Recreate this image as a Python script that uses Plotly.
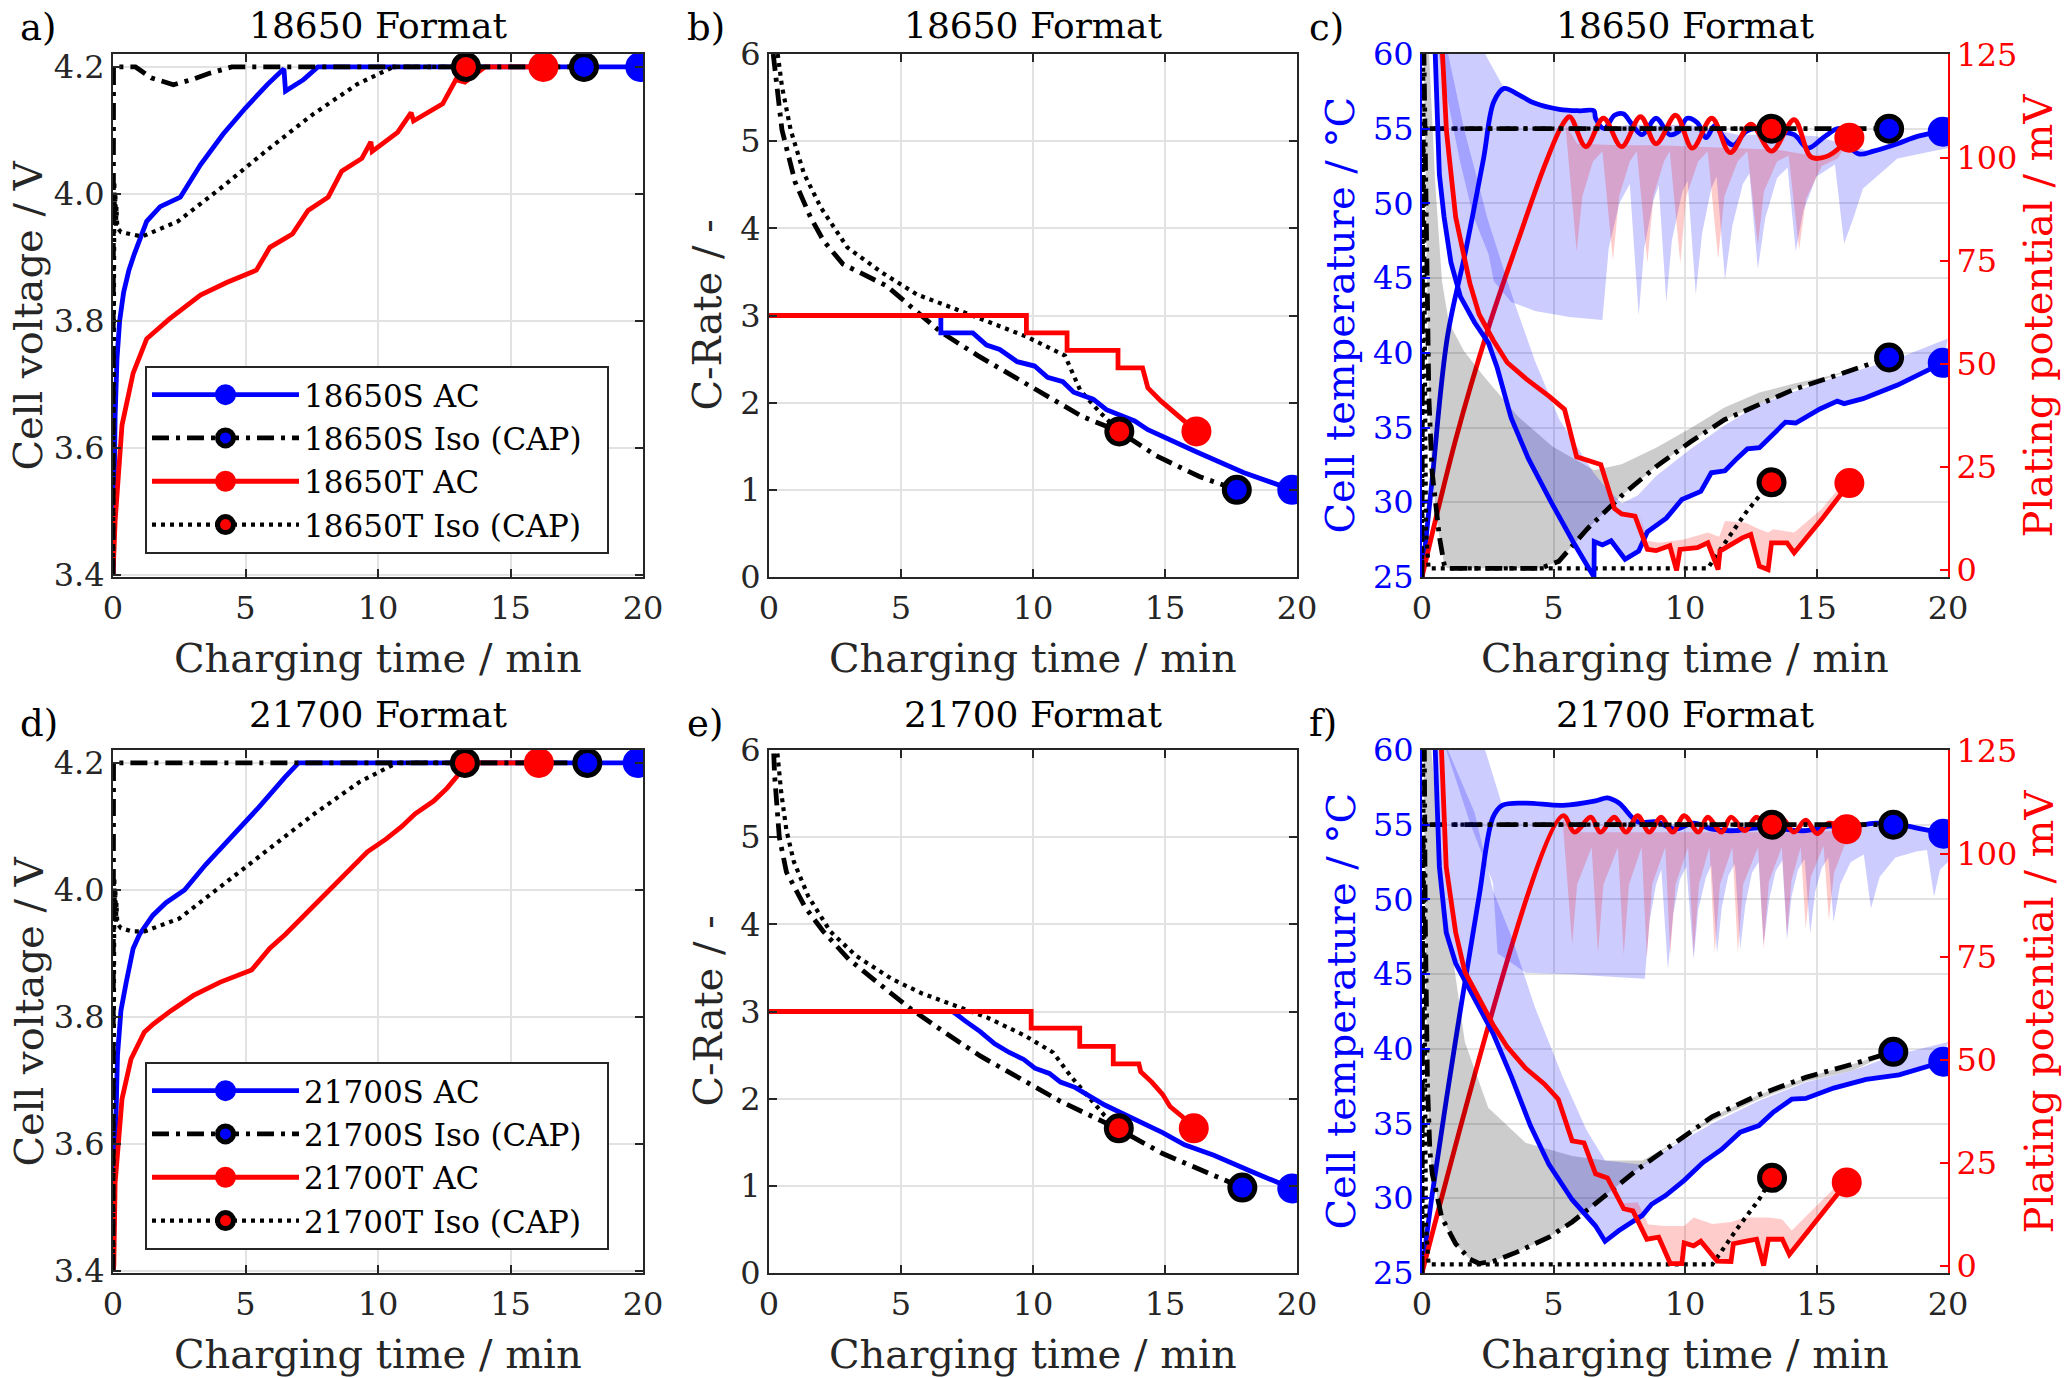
import plotly.graph_objects as go

FONT = "DejaVu Serif"
INK = "#262626"
BLUE = "#0000ff"
RED = "#ff0000"
BLACK = "#000000"
GRID = "#e2e2e2"
BAND_BLUE = "rgba(0,0,255,0.2)"
BAND_RED = "rgba(255,0,0,0.2)"
BAND_GRAY = "rgba(0,0,0,0.2)"

DASHDOT = "17px,7px,4px,7px"
DOT = "4px,5px"
LW = 4.8

# ---------------- panel a: 18650 cell voltage ----------------
a_S_AC_t = [0, 0.03, 0.08, 0.15, 0.25, 0.4, 0.6, 0.8, 1.27, 1.78, 2.54, 3.3, 4.15, 4.99, 5.84, 6.45, 6.51, 7.19, 7.73, 19.9]
a_S_AC_v = [3.4, 3.55, 3.65, 3.74, 3.8, 3.845, 3.88, 3.905, 3.957, 3.98, 3.995, 4.046, 4.094, 4.135, 4.173, 4.197, 4.162, 4.18, 4.2, 4.2]
a_S_Iso_t = [0, 0.02, 0.85, 1.44, 2.28, 2.96, 3.64, 4.48, 17.77]
a_S_Iso_v = [3.4, 4.2, 4.2, 4.183, 4.172, 4.18, 4.19, 4.2, 4.2]
a_T_AC_t = [0, 0.08, 0.34, 0.76, 1.27, 2.12, 3.3, 4.31, 5.41, 5.92, 6.77, 7.36, 8.12, 8.63, 9.39, 9.73, 9.78, 10.74, 11.25, 11.34, 12.44, 12.94, 13.28, 14.04, 16.24]
a_T_AC_v = [3.4, 3.485, 3.636, 3.718, 3.772, 3.803, 3.841, 3.861, 3.88, 3.916, 3.937, 3.974, 3.995, 4.036, 4.056, 4.082, 4.067, 4.097, 4.128, 4.115, 4.142, 4.18, 4.176, 4.2, 4.2]
a_T_Iso_t = [0, 0.03, 0.05, 0.07, 0.09, 0.11, 0.13, 0.16, 0.2, 0.3, 0.6, 1.1, 2.45, 4.15, 5.84, 7.53, 9.22, 10.58, 13.32]
a_T_Iso_v = [3.4, 3.75, 4.02, 3.96, 4.0, 3.95, 3.98, 3.95, 3.945, 3.94, 3.937, 3.933, 3.957, 4.012, 4.07, 4.125, 4.173, 4.2, 4.2]

# ---------------- panel b: 18650 C-rate ----------------
b_S_AC_t = [0, 6.51, 6.51, 7.72, 8.24, 8.74, 9.4, 10.06, 10.55, 11.13, 11.54, 12.28, 12.78, 13.85, 14.35, 15.5, 16.16, 17.97, 19.82]
b_S_AC_c = [3, 3, 2.8, 2.8, 2.66, 2.61, 2.47, 2.42, 2.29, 2.24, 2.12, 2.04, 1.92, 1.79, 1.69, 1.54, 1.44, 1.2, 1.0]
b_S_Iso_t = [0.16, 0.25, 0.49, 0.99, 1.57, 2.06, 2.8, 4.45, 5.77, 6.51, 7.91, 9.89, 11.87, 13.27, 14.67, 16.32, 17.72]
b_S_Iso_c = [6.0, 5.73, 5.13, 4.53, 4.13, 3.86, 3.59, 3.34, 2.99, 2.81, 2.54, 2.19, 1.84, 1.67, 1.39, 1.15, 1.0]
b_T_AC_t = [0, 9.75, 9.75, 11.29, 11.29, 13.22, 13.22, 14.15, 14.35, 14.84, 16.19]
b_T_AC_c = [3, 3, 2.8, 2.8, 2.6, 2.6, 2.4, 2.4, 2.17, 2.02, 1.67]
b_T_Iso_t = [0.33, 0.49, 0.82, 1.32, 1.98, 2.97, 4.29, 5.61, 6.93, 8.24, 9.73, 11.21, 11.79, 12.53, 13.27]
b_T_Iso_c = [6.0, 5.63, 5.13, 4.63, 4.23, 3.78, 3.49, 3.24, 3.09, 2.94, 2.76, 2.54, 2.14, 1.89, 1.67]

# ---------------- panel c: 18650 temperature (degC) ----------------
c_S_AC_T_t = [0, 0.39, 0.96, 1.68, 2.34, 2.73, 3.12, 3.65, 4.3, 5.22, 6.0, 6.54, 6.6, 6.93, 7.32, 7.65, 7.98, 8.37, 8.9, 9.42, 9.75, 10.08, 10.47, 10.8, 11.13, 11.52, 11.85, 12.31, 12.7, 13.23, 13.62, 14.15, 14.67, 15.33, 15.85, 16.3, 16.64, 17.17, 18.08, 18.87, 19.8]
c_S_AC_T = [25, 31.6, 41.0, 47.0, 53.0, 56.8, 57.7, 57.3, 56.7, 56.3, 56.2, 56.2, 55.7, 55.0, 55.9, 56.0, 55.3, 54.6, 55.7, 54.6, 54.8, 55.7, 55.4, 54.4, 55.2, 54.3, 53.9, 54.8, 55.0, 54.2, 54.7, 54.6, 53.7, 54.5, 55.0, 53.7, 53.3, 53.5, 54.0, 54.5, 54.8]
c_T_AC_T_t = [0, 1.28, 2.53, 3.65, 4.7, 5.35, 5.62, 6.23, 6.9, 7.59, 8.31, 8.9, 9.65, 10.28, 11.02, 11.72, 12.5, 13.29, 14.15, 14.8, 15.46, 16.25]
c_T_AC_T = [25, 34.2, 41.7, 47.5, 52.7, 55.3, 55.8, 53.8, 55.7, 53.8, 55.8, 54.0, 55.9, 53.7, 55.7, 53.4, 55.3, 53.5, 55.6, 53.1, 53.2, 54.4]
c_S_Iso_T_t = [0, 0.03, 17.76]
c_S_Iso_T = [25, 55, 55]
c_T_Iso_T_t = [0, 0.03, 13.29]
c_T_Iso_T = [25, 55, 55]
# temperature range bands (degC)
c_Sband_up_t = [0.55, 1.5, 2.4, 3.12, 3.65, 4.3, 5.22, 6.0, 6.54, 6.93, 8.0, 9.0, 10.0, 11.0, 12.0, 13.0, 14.0, 15.0, 16.0, 17.0, 18.0, 19.0, 20.0]
c_Sband_up = [62, 62, 60, 57.7, 57.3, 56.7, 56.3, 56.2, 56.2, 55.0, 55.3, 55.2, 55.3, 55.0, 54.6, 54.6, 54.6, 54.5, 54.0, 53.5, 54.0, 54.4, 54.8]
c_Sband_lo_t = [0.63, 1.42, 1.94, 2.53, 2.73, 3.39, 4.3, 5.6, 6.86, 7.1, 7.5, 7.9, 8.24, 8.45, 8.8, 9.0, 9.29, 9.5, 9.9, 10.1, 10.41, 10.65, 11.0, 11.2, 11.52, 11.8, 12.2, 12.45, 12.77, 13.05, 13.5, 13.9, 14.21, 14.5, 15.0, 15.7, 16.05, 16.4, 16.77, 18.08, 19.4, 20.0]
c_Sband_lo = [60, 53, 49.2, 46.6, 44.8, 43.4, 42.8, 42.4, 42.2, 47.0, 50.0, 51.3, 42.5, 47.0, 50.2, 51.2, 43.4, 47.5, 50.8, 51.5, 43.9, 48.0, 51.0, 51.8, 44.9, 48.5, 51.3, 52.0, 45.6, 49.0, 51.7, 52.4, 46.8, 49.5, 51.8, 52.6, 47.3, 49.0, 51.0, 53.0, 53.5, 53.7]
c_Tband_up_t = [5.45, 5.9, 7.5, 9.0, 10.5, 12.0, 13.5, 14.8, 15.5, 16.25]
c_Tband_up = [55.3, 54.0, 53.9, 53.9, 53.8, 53.7, 53.6, 53.2, 53.3, 54.3]
c_Tband_lo_t = [5.45, 5.88, 6.1, 6.5, 6.86, 7.26, 7.5, 7.9, 8.17, 8.57, 8.8, 9.2, 9.42, 9.82, 10.05, 10.5, 10.86, 11.26, 11.5, 12.0, 12.37, 12.77, 13.0, 13.5, 13.94, 14.34, 14.6, 15.2, 15.8, 16.25]
c_Tband_lo = [55.3, 46.8, 50.5, 52.8, 53.5, 46.2, 50.5, 52.8, 53.5, 46.0, 50.5, 52.8, 53.5, 46.0, 50.5, 52.8, 53.5, 46.3, 50.5, 52.8, 53.5, 47.2, 50.8, 52.8, 53.2, 46.9, 50.3, 52.5, 53.0, 54.2]

# ---------------- panel c: 18650 plating potential (mV) ----------------
c_S_AC_P_t = [0.45, 0.66, 0.84, 1.1, 1.46, 2.0, 2.53, 2.86, 3.39, 4.04, 4.96, 5.75, 6.54, 6.55, 6.86, 7.19, 7.72, 8.24, 8.57, 9.29, 9.88, 10.6, 11.0, 11.52, 11.98, 12.37, 12.83, 13.36, 13.82, 14.21, 15.13, 15.79, 16.05, 16.77, 18.08, 19.8]
c_S_AC_P = [135, 96, 85.6, 74.6, 66.3, 60, 55, 49, 36.8, 27, 15.8, 6.7, -1.8, 6.8, 6, 7, 2.5, 4.5, 9.2, 12.5, 17, 19, 23.5, 24, 27, 29.3, 29.6, 32.9, 35.8, 35.6, 39, 40.9, 40.3, 41.5, 44.8, 50.2]
c_T_AC_P_t = [0.7, 0.93, 1.28, 1.82, 2.17, 2.71, 3.24, 3.96, 4.85, 5.42, 5.88, 6.8, 7.32, 7.59, 8.1, 8.57, 8.9, 9.42, 9.68, 9.81, 10.47, 10.87, 11.26, 11.33, 12.18, 12.5, 12.83, 13.16, 13.29, 13.88, 14.15, 15.2, 16.25]
c_T_AC_P = [135, 106.5, 85.6, 69.5, 62, 55.7, 50.3, 46.3, 42, 38.9, 27.4, 25.5, 14.8, 13.5, 13, 4.9, 4.6, 5.8, -0.2, 4.9, 5.3, 6.5, 0, 4.5, 7.7, 8.5, 0.8, 0, 6.5, 6.5, 4.1, 12.2, 21.0]
c_S_Iso_P_t = [0.05, 0.1, 0.18, 0.26, 0.38, 0.55, 0.66, 0.85, 0.95, 4.5, 5.2, 6.3, 7.6, 8.9, 10.2, 11.5, 12.8, 14.15, 15.5, 16.8, 17.76]
c_S_Iso_P = [135, 110, 75, 42, 24, 13, 8, 1, 0.3, 0.3, 2, 10, 18, 25, 31, 36.4, 40, 43.8, 46.6, 49.5, 51.5]
c_T_Iso_P_t = [0.03, 0.08, 0.15, 0.25, 10.87, 11.13, 11.52, 12.31, 12.83, 13.29]
c_T_Iso_P = [135, 60, 10, 0.3, 0.3, 2.9, 6.5, 13.8, 17.9, 21.2]
# plating range bands (mV)
c_grayband_up_t = [0.2, 0.5, 0.76, 1.02, 1.6, 2.34, 3.65, 4.96, 6.54, 7.59, 8.9, 10.21, 11.52, 12.83, 14.15, 15.46, 16.77, 17.76]
c_grayband_up = [135, 94, 70, 60, 53, 47, 37.2, 29.9, 24.1, 25.6, 29.6, 34.3, 39.4, 43, 45.2, 47, 49.5, 51.5]
c_blueband_up_t = [0.5, 1.0, 1.6, 2.5, 3.5, 4.3, 5.22, 6.0, 6.54, 7.0, 7.6, 8.2, 8.9, 10.2, 11.5, 12.8, 14.2, 15.5, 16.8, 17.8, 20.0]
c_blueband_up = [132, 125, 107, 85, 65.1, 50.6, 36.5, 28.9, 23.4, 19.8, 16.1, 18.0, 22.7, 29.2, 35.0, 40.1, 43.4, 46.3, 48.8, 50.6, 56.1]
c_redband_up_t = [8.3, 8.57, 9.0, 9.68, 9.95, 10.87, 11.3, 11.52, 12.31, 12.83, 13.16, 13.36, 14.15, 15.2, 15.98, 16.25]
c_redband_up = [13, 7, 6.5, 7, 7.3, 9, 8, 11.8, 11.4, 9.8, 9, 9.8, 9, 14.7, 20.8, 22]

# ---------------- panel d: 21700 cell voltage ----------------
d_S_AC_t = [0, 0.03, 0.08, 0.17, 0.3, 0.5, 0.76, 1.0, 1.5, 2.0, 2.7, 3.5, 4.5, 5.5, 6.5, 7.0, 19.8]
d_S_AC_v = [3.4, 3.5, 3.59, 3.74, 3.81, 3.855, 3.908, 3.93, 3.96, 3.98, 4.0, 4.04, 4.085, 4.13, 4.178, 4.2, 4.2]
d_S_Iso_t = [0, 0.02, 17.9]
d_S_Iso_v = [3.4, 4.2, 4.2]
d_T_AC_t = [0, 0.03, 0.08, 0.34, 0.68, 1.18, 1.52, 2.19, 3.04, 4.05, 5.23, 5.91, 6.5, 7.1, 7.8, 8.4, 9.1, 9.6, 10.3, 10.9, 11.4, 12.1, 12.6, 13.0, 13.6, 16.07]
d_T_AC_v = [3.4, 3.408, 3.539, 3.671, 3.734, 3.776, 3.789, 3.81, 3.834, 3.855, 3.874, 3.908, 3.93, 3.955, 3.985, 4.01, 4.04, 4.06, 4.08, 4.1, 4.12, 4.14, 4.16, 4.18, 4.2, 4.2]
d_T_Iso_t = [0, 0.03, 0.05, 0.07, 0.09, 0.11, 0.13, 0.16, 0.2, 0.3, 0.7, 1.2, 2.5, 4.2, 5.9, 7.6, 9.3, 10.7, 13.28]
d_T_Iso_v = [3.4, 3.75, 4.02, 3.96, 4.0, 3.95, 3.98, 3.95, 3.945, 3.94, 3.935, 3.935, 3.955, 4.01, 4.065, 4.12, 4.17, 4.2, 4.2]

# ---------------- panel e: 21700 C-rate ----------------
e_S_AC_t = [0, 6.96, 7.44, 8.0, 8.55, 9.1, 9.65, 10.07, 10.62, 11.04, 11.59, 12.14, 12.7, 13.25, 14.08, 14.91, 15.74, 16.85, 18.23, 19.82]
e_S_AC_c = [3, 3, 2.89, 2.77, 2.63, 2.53, 2.45, 2.35, 2.29, 2.19, 2.13, 2.03, 1.93, 1.85, 1.73, 1.61, 1.47, 1.35, 1.17, 0.97]
e_S_Iso_t = [0.18, 0.21, 0.39, 0.66, 0.94, 1.36, 2.05, 3.02, 4.12, 5.37, 6.61, 8.0, 9.52, 11.04, 12.42, 13.25, 14.91, 16.57, 17.93]
e_S_Iso_c = [5.96, 5.72, 5.0, 4.6, 4.44, 4.2, 3.92, 3.6, 3.33, 3.03, 2.77, 2.49, 2.23, 1.97, 1.77, 1.65, 1.37, 1.15, 0.98]
e_T_AC_t = [0, 9.93, 9.93, 11.77, 11.77, 13.04, 13.04, 14.01, 14.08, 14.5, 14.91, 15.19, 15.67, 16.09]
e_T_AC_c = [3, 3, 2.81, 2.81, 2.6, 2.6, 2.4, 2.4, 2.31, 2.19, 2.05, 1.91, 1.79, 1.66]
e_T_Iso_t = [0.32, 0.46, 0.66, 0.94, 1.49, 2.32, 3.29, 4.67, 5.78, 6.89, 8.27, 9.65, 10.76, 11.45, 12.14, 12.7, 13.25]
e_T_Iso_c = [5.96, 5.52, 5.08, 4.72, 4.32, 3.92, 3.64, 3.37, 3.21, 3.09, 2.93, 2.73, 2.53, 2.25, 2.01, 1.81, 1.66]

# ---------------- panel f: 21700 temperature (degC) ----------------
f_S_AC_T_t = [0, 0.39, 1.28, 2.17, 2.7, 3.05, 3.94, 5.36, 6.6, 7.05, 7.49, 8.2, 8.9, 9.62, 10.33, 11.04, 11.93, 12.81, 13.7, 14.59, 15.47, 16.36, 17.25, 18.14, 19.02, 19.82]
f_S_AC_T = [25, 30.3, 40.6, 50.2, 55.5, 56.3, 56.45, 56.3, 56.6, 56.8, 56.45, 55.2, 55.2, 54.7, 55.1, 54.7, 54.6, 54.8, 54.7, 54.6, 54.9, 54.9, 55.1, 55.0, 54.7, 54.4]
f_T_AC_T_t = [0, 5.36, 5.8, 6.42, 6.78, 7.31, 7.76, 8.2, 8.64, 9.09, 9.53, 9.97, 10.51, 10.86, 11.39, 11.75, 12.28, 12.72, 13.26, 13.7, 14.14, 14.59, 15.03, 15.47, 16.15]
f_T_AC_T = [25, 55.6, 54.5, 55.5, 54.5, 55.5, 54.5, 55.6, 54.5, 55.5, 54.5, 55.6, 54.5, 55.5, 54.5, 55.5, 54.6, 55.5, 54.5, 55.4, 54.5, 55.3, 54.4, 55.1, 54.7]
f_S_Iso_T_t = [0, 0.03, 17.92]
f_S_Iso_T = [25, 55, 55]
f_T_Iso_T_t = [0, 0.03, 13.31]
f_T_Iso_T = [25, 55, 55]
f_Sband_up_t = [0.55, 1.5, 2.4, 3.05, 3.94, 5.36, 6.6, 7.05, 7.49, 8.2, 10.0, 12.0, 14.0, 16.0, 18.0, 20.0]
f_Sband_up = [62, 62, 60, 56.3, 56.45, 56.3, 56.6, 56.8, 56.45, 55.2, 55.0, 54.8, 54.7, 54.9, 55.0, 54.6]
f_Sband_lo_t = [0.92, 1.81, 2.7, 2.87, 3.94, 5.71, 7.49, 8.47, 8.65, 8.9, 9.1, 9.35, 9.55, 9.8, 10.05, 10.33, 10.5, 10.8, 11.0, 11.22, 11.4, 11.65, 11.9, 12.1, 12.3, 12.55, 12.8, 12.99, 13.2, 13.45, 13.7, 13.88, 14.05, 14.3, 14.55, 14.76, 14.95, 15.2, 15.45, 15.65, 15.9, 16.3, 16.8, 17.07, 17.4, 18.0, 18.8, 19.2, 19.47, 19.7, 20.0]
f_Sband_lo = [60, 55.2, 51.1, 46.4, 45.1, 45.0, 44.8, 44.7, 48.5, 51.0, 52.0, 45.3, 49.0, 51.3, 52.2, 46.0, 49.3, 51.5, 52.3, 46.4, 49.5, 51.6, 52.4, 46.7, 49.7, 51.8, 52.5, 47.0, 50.0, 51.9, 52.6, 47.3, 50.2, 52.0, 52.7, 47.7, 50.5, 52.1, 52.8, 48.5, 51.0, 52.5, 53.0, 49.4, 51.5, 52.8, 53.2, 53.3, 50.2, 52.0, 52.5]
f_Tband_up_t = [5.36, 5.7, 8.0, 10.0, 12.0, 14.0, 16.15]
f_Tband_up = [55.4, 54.5, 54.5, 54.5, 54.5, 54.5, 54.6]
f_Tband_lo_t = [5.36, 5.71, 5.9, 6.45, 6.69, 6.9, 7.45, 7.67, 7.87, 8.35, 8.55, 8.75, 9.25, 9.44, 9.64, 10.12, 10.33, 10.53, 10.93, 11.13, 11.33, 11.8, 12.01, 12.21, 12.78, 12.99, 13.19, 13.68, 13.88, 14.05, 14.4, 14.59, 14.78, 15.27, 15.47, 15.67, 16.15]
f_Tband_lo = [55.0, 47.0, 51.0, 53.5, 46.4, 51.0, 53.5, 46.3, 51.0, 53.5, 46.1, 51.0, 53.5, 46.3, 51.0, 53.5, 46.3, 51.0, 53.5, 46.4, 51.0, 53.5, 46.4, 51.0, 53.5, 46.7, 51.2, 53.5, 47.6, 51.3, 53.5, 48.0, 51.5, 53.6, 48.6, 51.8, 54.0]

# ---------------- panel f: 21700 plating potential (mV) ----------------
f_S_AC_P_t = [0.45, 0.66, 0.92, 1.28, 1.99, 2.7, 3.41, 4.12, 4.83, 5.71, 6.6, 6.96, 7.49, 8.38, 8.73, 9.26, 9.97, 10.68, 11.39, 12.1, 12.81, 13.35, 14.06, 14.59, 15.65, 16.89, 18.14, 19.82]
f_S_AC_P = [135, 96.8, 80.9, 73.4, 64.9, 56.4, 45.7, 34, 24.5, 16, 9.6, 5.9, 8.5, 12.2, 14.9, 17, 20.7, 25, 28.2, 32.4, 34, 37.2, 40.4, 40.6, 43.1, 45.2, 46.3, 49.5]
f_T_AC_P_t = [0.68, 0.92, 1.28, 1.63, 2.17, 2.7, 3.23, 3.94, 4.65, 5.18, 5.71, 6.16, 6.6, 7.05, 7.67, 8.02, 8.55, 9.0, 9.44, 9.88, 9.97, 10.33, 10.6, 11.04, 11.22, 11.75, 11.84, 12.28, 12.72, 12.99, 13.17, 13.7, 13.97, 16.15]
f_T_AC_P = [135, 96.8, 80.9, 71.3, 64.9, 58.5, 53.2, 47.9, 44.1, 40.4, 30.3, 29.8, 22.3, 21.3, 13.8, 13.3, 6.4, 6.9, 0.5, 0.5, 5.5, 4.8, 5.9, 2.7, 1.1, 1.0, 5.3, 5.9, 6.4, 0, 6.4, 6.4, 2.7, 20.2]
f_S_Iso_P_t = [0.05, 0.09, 0.12, 0.21, 0.3, 0.39, 0.75, 1.28, 1.81, 2.17, 2.7, 3.58, 4.83, 5.71, 6.78, 8.2, 9.62, 11.04, 12.81, 14.59, 16.36, 17.92]
f_S_Iso_P = [135, 125, 86, 43.6, 27.7, 22.3, 11.7, 5.3, 1.6, 0.5, 1, 3.2, 6.9, 10.6, 16, 23.4, 29.8, 36.2, 41.5, 45.7, 48.9, 51.9]
f_T_Iso_P_t = [0.03, 0.08, 0.15, 0.25, 11.04, 11.5, 11.93, 12.81, 13.31]
f_T_Iso_P = [135, 60, 10, 0.3, 0.3, 4.5, 8.5, 16, 21.3]
f_grayband_up_t = [0.21, 0.92, 1.63, 2.52, 3.94, 5.71, 6.96, 8.38, 9.26, 11.04, 12.81, 14.59, 16.36, 17.92]
f_grayband_up = [135, 86.2, 54.3, 38.3, 29.8, 26.6, 25.5, 25.5, 28.7, 35.1, 40.4, 44.7, 47.3, 51.9]
f_blueband_up_t = [0.5, 1.0, 2.0, 2.7, 3.41, 4.29, 5.36, 6.25, 6.96, 8.38, 9.26, 11.04, 12.81, 14.59, 16.36, 17.92, 20.0]
f_blueband_up = [135, 125, 110, 91, 79.8, 62.8, 45.7, 33, 25.5, 24.5, 28, 34.5, 40, 44.5, 47.3, 51, 54.3]
f_redband_up_t = [7.5, 8.2, 8.6, 9.26, 9.97, 10.33, 11.04, 11.75, 12.28, 13.17, 13.7, 14.06, 16.15]
f_redband_up = [15, 15.4, 10, 9.6, 9.6, 11.7, 10.1, 10.6, 11.7, 11.7, 11.2, 8.5, 21.8]

NAMES_18650 = ["18650S AC", "18650S Iso (CAP)", "18650T AC", "18650T Iso (CAP)"]
NAMES_21700 = ["21700S AC", "21700S Iso (CAP)", "21700T AC", "21700T Iso (CAP)"]

# ---------------- figure ----------------
W, H = 2070, 1378
def fx(px):
    return px / W
def fy(py):
    return 1 - py / H

fig = go.Figure()

def add_line(t, v, xa, ya, color, width=LW, dash="solid", shape="linear"):
    fig.add_trace(go.Scatter(x=t, y=v, xaxis=xa, yaxis=ya, mode="lines",
                             line=dict(color=color, width=width, dash=dash, shape=shape),
                             showlegend=False, hoverinfo="skip"))

def add_end(t, v, xa, ya, fill, edged, legend=None, name=None, lcolor=None, ldash="solid", lwidth=LW):
    if edged:
        mk = dict(size=25, color=fill, line=dict(color=BLACK, width=5))
    else:
        mk = dict(size=25, color=fill, line=dict(color=fill, width=5))
    kw = dict(x=[t[-1]], y=[v[-1]], xaxis=xa, yaxis=ya, marker=mk, hoverinfo="skip")
    if legend:
        fig.add_trace(go.Scatter(mode="lines+markers", name=name + "\u00a0\u00a0", legend=legend, showlegend=True,
                                 line=dict(color=lcolor, width=lwidth, dash=ldash), **kw))
    else:
        fig.add_trace(go.Scatter(mode="markers", showlegend=False, **kw))

def add_band(up_t, up_v, lo_t, lo_v, xa, ya, rgba):
    xs = list(up_t) + list(lo_t)[::-1]
    ys = list(up_v) + list(lo_v)[::-1]
    fig.add_trace(go.Scatter(x=xs, y=ys, xaxis=xa, yaxis=ya, mode="lines", fill="toself",
                             fillcolor=rgba, line=dict(width=0, color=rgba),
                             showlegend=False, hoverinfo="skip"))

def sub(t, v, t0, t1):
    pairs = [(a, b) for a, b in zip(t, v) if t0 <= a <= t1]
    return [p[0] for p in pairs], [p[1] for p in pairs]

# ----- voltage panels -----
def voltage_panel(xa, ya, S_AC, S_Iso, T_AC, T_Iso, names, legend):
    add_line(*S_AC, xa, ya, BLUE)
    add_line(*T_AC, xa, ya, RED)
    add_line(*S_Iso, xa, ya, BLACK, LW, DASHDOT)
    add_line(*T_Iso, xa, ya, BLACK, 4.2, DOT)
    add_end(*S_AC, xa, ya, BLUE, False, legend, names[0], BLUE, "solid")
    add_end(*S_Iso, xa, ya, BLUE, True, legend, names[1], BLACK, DASHDOT)
    add_end(*T_AC, xa, ya, RED, False, legend, names[2], RED, "solid")
    add_end(*T_Iso, xa, ya, RED, True, legend, names[3], BLACK, DOT, 4.2)

voltage_panel("x", "y", (a_S_AC_t, a_S_AC_v), (a_S_Iso_t, a_S_Iso_v), (a_T_AC_t, a_T_AC_v), (a_T_Iso_t, a_T_Iso_v), NAMES_18650, "legend")
voltage_panel("x4", "y4", (d_S_AC_t, d_S_AC_v), (d_S_Iso_t, d_S_Iso_v), (d_T_AC_t, d_T_AC_v), (d_T_Iso_t, d_T_Iso_v), NAMES_21700, "legend2")

# ----- C-rate panels -----
def crate_panel(xa, ya, S_AC, S_Iso, T_AC, T_Iso):
    add_line(*S_Iso, xa, ya, BLACK, LW, DASHDOT)
    add_line(*T_Iso, xa, ya, BLACK, 4.2, DOT)
    add_line(*S_AC, xa, ya, BLUE)
    add_line(*T_AC, xa, ya, RED)
    add_end(*S_AC, xa, ya, BLUE, False)
    add_end(*S_Iso, xa, ya, BLUE, True)
    add_end(*T_AC, xa, ya, RED, False)
    add_end(*T_Iso, xa, ya, RED, True)

crate_panel("x2", "y2", (b_S_AC_t, b_S_AC_c), (b_S_Iso_t, b_S_Iso_c), (b_T_AC_t, b_T_AC_c), (b_T_Iso_t, b_T_Iso_c))
crate_panel("x5", "y5", (e_S_AC_t, e_S_AC_c), (e_S_Iso_t, e_S_Iso_c), (e_T_AC_t, e_T_AC_c), (e_T_Iso_t, e_T_Iso_c))

# ----- temperature / plating panels -----
def thermal_panel(xa, ya, ya2, d):
    add_band(d["Sband_up_t"], d["Sband_up"], d["Sband_lo_t"], d["Sband_lo"], xa, ya, BAND_BLUE)
    add_band(d["Tband_up_t"], d["Tband_up"], d["Tband_lo_t"], d["Tband_lo"], xa, ya, BAND_RED)
    add_line(*d["S_AC_T"], xa, ya, BLUE, LW, "solid", "spline")
    add_line(*d["T_AC_T"], xa, ya, RED, LW, "solid", "spline")
    add_line(*d["S_Iso_T"], xa, ya, BLACK, LW, DASHDOT)
    add_line(*d["T_Iso_T"], xa, ya, BLACK, 4.2, DOT)
    add_end(*d["T_Iso_T"], xa, ya, RED, True)
    add_end(*d["T_AC_T"], xa, ya, RED, False)
    add_end(*d["S_Iso_T"], xa, ya, BLUE, True)
    add_end(*d["S_AC_T"], xa, ya, BLUE, False)
    st, sv = d["S_Iso_P"]
    add_band(d["gray_up_t"], d["gray_up"], st, sv, xa, ya2, BAND_GRAY)
    bt, bv = d["S_AC_P"]
    add_band(d["blue_up_t"], d["blue_up"], bt, bv, xa, ya2, BAND_BLUE)
    rt, rv = d["T_AC_P"]
    lo_t, lo_v = sub(rt, rv, d["red_up_t"][0], d["red_up_t"][-1])
    add_band(d["red_up_t"], d["red_up"], lo_t, lo_v, xa, ya2, BAND_RED)
    add_line(*d["S_Iso_P"], xa, ya2, BLACK, LW, DASHDOT)
    add_line(*d["T_Iso_P"], xa, ya2, BLACK, 4.2, DOT)
    add_line(*d["S_AC_P"], xa, ya2, BLUE)
    add_line(*d["T_AC_P"], xa, ya2, RED)
    add_end(*d["T_Iso_P"], xa, ya2, RED, True)
    add_end(*d["T_AC_P"], xa, ya2, RED, False)
    add_end(*d["S_Iso_P"], xa, ya2, BLUE, True)
    add_end(*d["S_AC_P"], xa, ya2, BLUE, False)

thermal_panel("x3", "y3", "y7", dict(
    Sband_up_t=c_Sband_up_t, Sband_up=c_Sband_up, Sband_lo_t=c_Sband_lo_t, Sband_lo=c_Sband_lo,
    Tband_up_t=c_Tband_up_t, Tband_up=c_Tband_up, Tband_lo_t=c_Tband_lo_t, Tband_lo=c_Tband_lo,
    S_AC_T=(c_S_AC_T_t, c_S_AC_T), T_AC_T=(c_T_AC_T_t, c_T_AC_T),
    S_Iso_T=(c_S_Iso_T_t, c_S_Iso_T), T_Iso_T=(c_T_Iso_T_t, c_T_Iso_T),
    S_AC_P=(c_S_AC_P_t, c_S_AC_P), T_AC_P=(c_T_AC_P_t, c_T_AC_P),
    S_Iso_P=(c_S_Iso_P_t, c_S_Iso_P), T_Iso_P=(c_T_Iso_P_t, c_T_Iso_P),
    gray_up_t=c_grayband_up_t, gray_up=c_grayband_up,
    blue_up_t=c_blueband_up_t, blue_up=c_blueband_up,
    red_up_t=c_redband_up_t, red_up=c_redband_up))

thermal_panel("x6", "y6", "y8", dict(
    Sband_up_t=f_Sband_up_t, Sband_up=f_Sband_up, Sband_lo_t=f_Sband_lo_t, Sband_lo=f_Sband_lo,
    Tband_up_t=f_Tband_up_t, Tband_up=f_Tband_up, Tband_lo_t=f_Tband_lo_t, Tband_lo=f_Tband_lo,
    S_AC_T=(f_S_AC_T_t, f_S_AC_T), T_AC_T=(f_T_AC_T_t, f_T_AC_T),
    S_Iso_T=(f_S_Iso_T_t, f_S_Iso_T), T_Iso_T=(f_T_Iso_T_t, f_T_Iso_T),
    S_AC_P=(f_S_AC_P_t, f_S_AC_P), T_AC_P=(f_T_AC_P_t, f_T_AC_P),
    S_Iso_P=(f_S_Iso_P_t, f_S_Iso_P), T_Iso_P=(f_T_Iso_P_t, f_T_Iso_P),
    gray_up_t=f_grayband_up_t, gray_up=f_grayband_up,
    blue_up_t=f_blueband_up_t, blue_up=f_blueband_up,
    red_up_t=f_redband_up_t, red_up=f_redband_up))

# ---------------- axes ----------------
COLS = [(113, 643), (769, 1297), (1422, 1948)]
ROWS = [(54, 577), (750, 1273)]
TICKSIZE = 32

def xdom(c):
    return [fx(COLS[c][0]), fx(COLS[c][1])]
def ydom(r):
    return [fy(ROWS[r][1]), fy(ROWS[r][0])]

def xax(c, r, anchor):
    return dict(domain=xdom(c), anchor=anchor, range=[0, 20], tickvals=[0, 5, 10, 15, 20],
                ticks="inside", ticklen=8, tickwidth=2, tickcolor=INK,
                showline=True, linewidth=2, linecolor=INK, mirror="ticks",
                showgrid=True, gridcolor=GRID, gridwidth=1.5, zeroline=False,
                tickfont=dict(family=FONT, size=TICKSIZE, color=INK), ticklabelstandoff=2,
                fixedrange=True, automargin=False)

def yax(r, anchor, rng, vals, fmt=None, color=INK, mirror="ticks", grid=True):
    d = dict(domain=ydom(r), anchor=anchor, range=rng, tickvals=vals,
             ticks="inside", ticklen=8, tickwidth=2, tickcolor=color,
             showline=True, linewidth=2, linecolor=color, mirror=mirror,
             showgrid=grid, gridcolor=GRID, gridwidth=1.5, zeroline=False,
             tickfont=dict(family=FONT, size=TICKSIZE, color=color), ticklabelstandoff=0,
             fixedrange=True, automargin=False)
    if fmt:
        d["tickformat"] = fmt
    return d

layout = dict(
    width=W, height=H, margin=dict(l=0, r=0, t=0, b=0, pad=0, autoexpand=False),
    paper_bgcolor="white", plot_bgcolor="white",
    font=dict(family=FONT, color=INK),
    xaxis=xax(0, 0, "y"), yaxis=yax(0, "x", [3.397, 4.2204], [3.4, 3.6, 3.8, 4.0, 4.2], ".1f"),
    xaxis2=xax(1, 0, "y2"), yaxis2=yax(0, "x2", [0, 6], [0, 1, 2, 3, 4, 5, 6]),
    xaxis3=xax(2, 0, "y3"), yaxis3=yax(0, "x3", [25, 60], [25, 30, 35, 40, 45, 50, 55, 60], color=BLUE, mirror=False),
    xaxis4=xax(0, 1, "y4"), yaxis4=yax(1, "x4", [3.397, 4.2204], [3.4, 3.6, 3.8, 4.0, 4.2], ".1f"),
    xaxis5=xax(1, 1, "y5"), yaxis5=yax(1, "x5", [0, 6], [0, 1, 2, 3, 4, 5, 6]),
    xaxis6=xax(2, 1, "y6"), yaxis6=yax(1, "x6", [25, 60], [25, 30, 35, 40, 45, 50, 55, 60], color=BLUE, mirror=False),
)
y7 = yax(0, "x3", [-1.8, 125.2], [0, 25, 50, 75, 100, 125], color=RED, mirror=False, grid=False)
y7.update(overlaying="y3", side="right")
y8 = yax(1, "x6", [-1.8, 125.2], [0, 25, 50, 75, 100, 125], color=RED, mirror=False, grid=False)
y8.update(overlaying="y6", side="right")
layout["yaxis7"] = y7
layout["yaxis8"] = y8

legend_common = dict(xanchor="left", yanchor="top", bgcolor="white", bordercolor=INK, borderwidth=2,
                     font=dict(family=FONT, size=31, color=BLACK), itemwidth=147, tracegroupgap=0,
                     itemclick=False, itemdoubleclick=False)
layout["legend"] = dict(x=fx(145), y=fy(366), **legend_common)
layout["legend2"] = dict(x=fx(145), y=fy(1062), **legend_common)

fig.update_layout(**layout)

# ---------------- text ----------------
ann = []
def text(s, x, y, size, color=INK, angle=0, xanchor="center"):
    ann.append(dict(text=s, x=x, y=y, xref="paper", yref="paper", showarrow=False,
                    font=dict(family=FONT, size=size, color=color), textangle=angle,
                    xanchor=xanchor, yanchor="middle"))

titles = ["18650 Format", "21700 Format"]
letters = [["a)", "b)", "c)"], ["d)", "e)", "f)"]]
letter_x = [18, 685, 1307]
title_y = [25, 714]
letter_y = [28, 724]
xtitle_y = [658, 1354]
for r in range(2):
    for c in range(3):
        cx = (COLS[c][0] + COLS[c][1]) / 2
        text(titles[r], fx(cx), fy(title_y[r]), 36, BLACK)
        text(letters[r][c], fx(letter_x[c]), fy(letter_y[r]), 37, BLACK, xanchor="left")
        text("Charging time / min", fx(cx), fy(xtitle_y[r]), 40)
    cy = (ROWS[r][0] + ROWS[r][1]) / 2
    text("Cell voltage / V", fx(28), fy(cy), 40, angle=-90)
    text("C-Rate / -", fx(707), fy(cy), 40, angle=-90)
    text("Cell temperature / °C", fx(1340), fy(cy), 40, BLUE, angle=-90)
    text("Plating potential / mV", fx(2038), fy(cy), 40, RED, angle=-90)

fig.update_layout(annotations=ann)
fig.write_html("out.html")
